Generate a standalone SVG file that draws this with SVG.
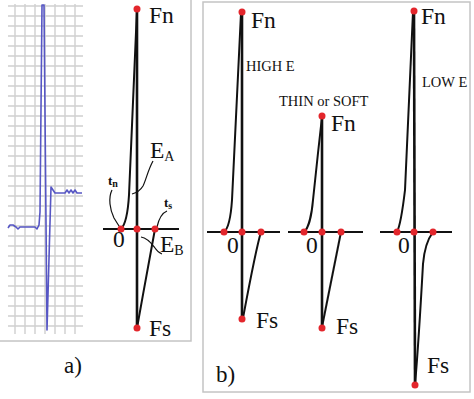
<svg xmlns="http://www.w3.org/2000/svg" width="474" height="399" viewBox="0 0 474 399">
<style>
.panel{fill:#fff;stroke:#c4c4c4;stroke-width:1.5}
.grid line{stroke:#cfcfcf;stroke-width:1.4}
.ecg{fill:none;stroke:#5656c4;stroke-width:1.6;stroke-linejoin:round}
.ax{stroke:#111;stroke-width:2.6;fill:none}
.hz{stroke:#111;stroke-width:2.2;fill:none}
.cv{stroke:#111;stroke-width:2;fill:none}
.ld{stroke:#111;stroke-width:1.2;fill:none}
.dot{fill:#e3262c}
.lbl{font-family:"Liberation Serif","Times New Roman",serif;fill:#111}
.big{font-size:23.5px}
.sm{font-size:14.5px}
.pl{font-size:23px}
.tb{font-family:"Liberation Serif","Times New Roman",serif;font-weight:bold;fill:#111}
</style>
<rect class="panel" x="-2" y="-2" width="193" height="343"/>
<rect class="panel" x="203" y="2" width="267" height="390"/>

<g id="ecg">
<g class="grid">
<line x1="15" y1="4" x2="15" y2="334"/><line x1="25" y1="4" x2="25" y2="334"/><line x1="35" y1="4" x2="35" y2="334"/><line x1="45" y1="4" x2="45" y2="334"/><line x1="55" y1="4" x2="55" y2="334"/><line x1="65" y1="4" x2="65" y2="334"/><line x1="75" y1="4" x2="75" y2="334"/>
<line x1="8" y1="6" x2="83" y2="6"/><line x1="8" y1="16" x2="83" y2="16"/><line x1="8" y1="26" x2="83" y2="26"/><line x1="8" y1="36" x2="83" y2="36"/><line x1="8" y1="46" x2="83" y2="46"/><line x1="8" y1="56" x2="83" y2="56"/><line x1="8" y1="66" x2="83" y2="66"/><line x1="8" y1="76" x2="83" y2="76"/><line x1="8" y1="86" x2="83" y2="86"/><line x1="8" y1="96" x2="83" y2="96"/><line x1="8" y1="106" x2="83" y2="106"/><line x1="8" y1="116" x2="83" y2="116"/><line x1="8" y1="126" x2="83" y2="126"/><line x1="8" y1="136" x2="83" y2="136"/><line x1="8" y1="146" x2="83" y2="146"/><line x1="8" y1="156" x2="83" y2="156"/><line x1="8" y1="166" x2="83" y2="166"/><line x1="8" y1="176" x2="83" y2="176"/><line x1="8" y1="186" x2="83" y2="186"/><line x1="8" y1="196" x2="83" y2="196"/><line x1="8" y1="206" x2="83" y2="206"/><line x1="8" y1="216" x2="83" y2="216"/><line x1="8" y1="226" x2="83" y2="226"/><line x1="8" y1="236" x2="83" y2="236"/><line x1="8" y1="246" x2="83" y2="246"/><line x1="8" y1="256" x2="83" y2="256"/><line x1="8" y1="266" x2="83" y2="266"/><line x1="8" y1="276" x2="83" y2="276"/><line x1="8" y1="286" x2="83" y2="286"/><line x1="8" y1="296" x2="83" y2="296"/><line x1="8" y1="306" x2="83" y2="306"/><line x1="8" y1="316" x2="83" y2="316"/><line x1="8" y1="326" x2="83" y2="326"/>
</g>
<path class="ecg" d="M8,228 L10,225 L13,225 L16,227 L18,229 L20,227 L35,227 L37,229 L39,225 L40,212 L42,5 L44,5 L47,330 L51,187 L53,190 L55,193 L65,193 L67,190 L69,193 L71,190 L73,193 L75,190 L77,193 L82,193"/>
</g>

<g id="connectors">
<line class="ax" x1="137" y1="8" x2="137" y2="328"/>
<line class="hz" x1="103" y1="229" x2="179" y2="229"/>
<path class="cv" d="M121,229 C126,224 128,212 129,195 C131,150 134,80 137,9"/>
<path class="cv" d="M155,229 C150,255 143,295 137,328"/>
<path class="ld" d="M112,190 C108,198 110,210 114,218 C117,223 119,226 121,229"/>
<path class="ld" d="M153,161 C148,170 146,180 143,186 C140,191 136,193 132,194"/>
<path class="ld" d="M167,211 C162,213 159,218 157,227"/>
<path class="ld" d="M141,237 C148,238 152,244 155,248 C157,251 159,253 162,254"/>
<line class="ax" x1="242" y1="12" x2="242" y2="319"/>
<line class="hz" x1="207" y1="232" x2="280" y2="232"/>
<path class="cv" d="M224,232 C229,228 231,215 232,200 L241,13"/>
<path class="cv" d="M261,232 C257,245 252,270 243,318"/>
<line class="ax" x1="322" y1="116" x2="322" y2="328"/>
<line class="hz" x1="288" y1="232" x2="363" y2="232"/>
<path class="cv" d="M304,232 C309,228 312,212 313,200 L318,153 L322,117"/>
<path class="cv" d="M341,232 L322,327"/>
<line class="ax" x1="414" y1="11" x2="415" y2="385"/>
<line class="hz" x1="380" y1="232" x2="452" y2="232"/>
<path class="cv" d="M397,232 C401,224 403,207 405,190 L413,12"/>
<path class="cv" d="M433,232 C427,240 424,252 423,264 C421,300 418,350 415,385"/>
</g>

<g id="dots">
<circle class="dot" cx="137" cy="9" r="3.5"/><circle class="dot" cx="137" cy="328" r="3.5"/>
<circle class="dot" cx="121" cy="229" r="3.5"/><circle class="dot" cx="137" cy="229" r="3.5"/><circle class="dot" cx="155" cy="229" r="3.5"/>
<circle class="dot" cx="242" cy="12" r="3.5"/><circle class="dot" cx="242" cy="319" r="3.5"/>
<circle class="dot" cx="224" cy="232" r="3.5"/><circle class="dot" cx="242" cy="232" r="3.5"/><circle class="dot" cx="261" cy="232" r="3.5"/>
<circle class="dot" cx="322" cy="116" r="3.5"/><circle class="dot" cx="322" cy="328" r="3.5"/>
<circle class="dot" cx="304" cy="232" r="3.5"/><circle class="dot" cx="322" cy="232" r="3.5"/><circle class="dot" cx="341" cy="232" r="3.5"/>
<circle class="dot" cx="414" cy="11" r="3.5"/><circle class="dot" cx="415" cy="385" r="3.5"/>
<circle class="dot" cx="397" cy="232" r="3.5"/><circle class="dot" cx="414" cy="232" r="3.5"/><circle class="dot" cx="433" cy="232" r="3.5"/>
</g>

<g id="labels-a">
<text class="lbl big" x="149" y="23">Fn</text>
<text class="lbl big" x="149" y="336">Fs</text>
<text class="lbl big" x="113" y="247">0</text>
<text class="lbl big" x="150" y="158">E<tspan font-size="14" dy="3">A</tspan></text>
<text class="lbl big" x="160" y="252">E<tspan font-size="14" dy="3">B</tspan></text>
<text class="tb" font-size="13" x="108" y="185">t<tspan font-size="10" dy="2">n</tspan></text>
<text class="tb" font-size="13" x="164" y="207">t<tspan font-size="10" dy="2">s</tspan></text>
<text class="lbl pl" x="64" y="373">a)</text>
</g>

<g id="labels-b">
<text class="lbl big" x="251" y="28">Fn</text>
<text class="lbl sm" x="246" y="71">HIGH E</text>
<text class="lbl big" x="227" y="253">0</text>
<text class="lbl big" x="256" y="328">Fs</text>
<text class="lbl sm" x="279" y="106">THIN or SOFT</text>
<text class="lbl big" x="331" y="131">Fn</text>
<text class="lbl big" x="306" y="253">0</text>
<text class="lbl big" x="336" y="334">Fs</text>
<text class="lbl big" x="421" y="24">Fn</text>
<text class="lbl sm" x="422" y="87">LOW E</text>
<text class="lbl big" x="398" y="253">0</text>
<text class="lbl big" x="427" y="373">Fs</text>
<text class="lbl pl" x="216" y="382">b)</text>
</g>
</svg>
